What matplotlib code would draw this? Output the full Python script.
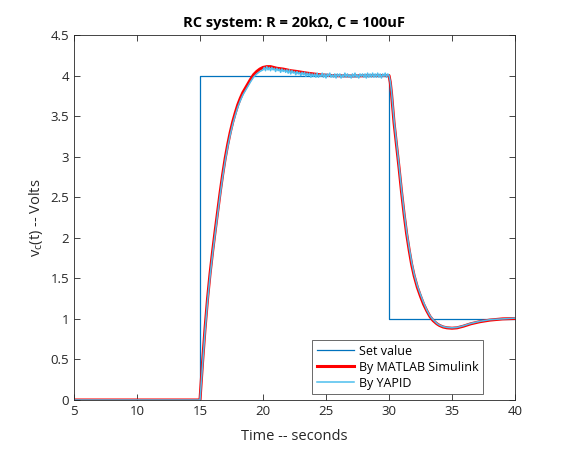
import numpy as np
import matplotlib
matplotlib.use("Agg")
import matplotlib.pyplot as plt

plt.rcParams['font.family'] = ['Open Sans', 'DejaVu Sans']
plt.rcParams['mathtext.fontset'] = 'custom'
plt.rcParams['mathtext.rm'] = 'Open Sans'

# set point (step input)
setpoint_t = [5, 15, 15, 30, 30, 40]
setpoint_v = [0, 0, 4, 4, 1, 1]

# MATLAB Simulink response
sim_t = [5, 15.0, 15.2, 15.4, 15.6, 15.8, 16.0, 16.2, 16.4, 16.6, 16.8, 17.0,
         17.2, 17.4, 17.6, 17.8, 18.0, 18.2, 18.4, 18.7, 19.0, 19.25, 19.5,
         19.75, 20.0, 20.3, 20.6, 21.1, 21.6, 22.2, 22.7, 23.5, 24.5, 25.5,
         27.0, 28.5, 30.0, 30.1, 30.2, 30.4, 30.6, 30.8, 31.0, 31.2, 31.4,
         31.6, 31.8, 32.0, 32.25, 32.5, 32.75, 33.0, 33.25, 33.5, 33.8, 34.0,
         34.3, 34.6, 35.0, 35.4, 35.9, 36.5, 37.2, 38.0, 39.0, 40.0]
sim_v = [0, 0, 0.46, 0.88, 1.25, 1.56, 1.83, 2.08, 2.32, 2.56, 2.78, 2.98,
         3.15, 3.30, 3.43, 3.54, 3.64, 3.72, 3.79, 3.87, 3.95, 4.01, 4.05,
         4.08, 4.10, 4.11, 4.11, 4.09, 4.08, 4.06, 4.05, 4.03, 4.01, 4.00,
         3.995, 4.0, 4.0, 3.92, 3.78, 3.42, 3.14, 2.86, 2.56, 2.29, 2.05,
         1.85, 1.67, 1.53, 1.39, 1.28, 1.18, 1.10, 1.03, 0.98, 0.94, 0.92,
         0.90, 0.89, 0.885, 0.89, 0.91, 0.94, 0.965, 0.985, 1.0, 1.005]

# YAPID response: rise, noisy plateau (0.1 s samples from 20.0 s), fall
yapid_rise_t = [5, 15.0, 15.2, 15.4, 15.6, 15.8, 16.0, 16.2, 16.4, 16.6, 16.8,
                17.0, 17.2, 17.4, 17.6, 17.8, 18.0, 18.2, 18.4, 18.7, 19.0,
                19.25, 19.5, 19.75]
yapid_rise_v = [0, 0, 0.43, 0.85, 1.22, 1.53, 1.80, 2.05, 2.29, 2.53, 2.75,
                2.95, 3.12, 3.27, 3.40, 3.51, 3.61, 3.69, 3.76, 3.84, 3.92,
                3.98, 4.02, 4.05]
yapid_plateau_v = [
    4.07, 4.10, 4.06, 4.11, 4.07, 4.10, 4.06, 4.10, 4.07, 4.09,
    4.05, 4.09, 4.06, 4.08, 4.04, 4.08, 4.05, 4.07, 4.04, 4.07,
    4.03, 4.07, 4.02, 4.06, 4.03, 4.05, 4.01, 4.05, 4.02, 4.04,
    4.00, 4.04, 4.01, 4.04, 3.99, 4.03, 4.00, 4.03, 3.98, 4.02,
    3.99, 4.02, 3.98, 4.03, 3.98, 4.01, 3.99, 4.03, 3.98, 4.02,
    3.97, 4.02, 3.99, 4.03, 3.98, 4.01, 3.98, 4.02, 3.97, 4.02,
    3.99, 4.02, 3.97, 4.01, 3.98, 4.03, 3.98, 4.02, 3.98, 4.01,
    3.97, 4.02, 3.98, 4.03, 3.98, 4.01, 3.97, 4.02, 3.99, 4.02,
    3.98, 4.02, 3.97, 4.03, 3.98, 4.02, 3.98, 4.03, 3.98, 4.02,
    3.98, 4.03, 3.98, 4.02, 3.97, 4.02, 3.99, 4.03, 3.98, 4.02]
yapid_fall_t = [30.0, 30.1, 30.2, 30.4, 30.6, 30.8, 31.0, 31.2, 31.4, 31.6,
                31.8, 32.0, 32.25, 32.5, 32.75, 33.0, 33.25, 33.5, 33.8, 34.0,
                34.3, 34.6, 35.0, 35.4, 35.9, 36.5, 37.2, 38.0, 39.0, 40.0]
yapid_fall_v = [4.0, 3.93, 3.80, 3.45, 3.17, 2.89, 2.59, 2.32, 2.08, 1.88,
                1.70, 1.55, 1.41, 1.30, 1.20, 1.11, 1.04, 0.99, 0.945, 0.925,
                0.905, 0.895, 0.89, 0.895, 0.915, 0.945, 0.97, 0.99, 1.0, 1.01]

yapid_plateau_t = 20.0 + 0.1 * np.arange(len(yapid_plateau_v))
yapid_t = np.concatenate([yapid_rise_t, yapid_plateau_t, yapid_fall_t])
yapid_v = np.concatenate([yapid_rise_v, yapid_plateau_v, yapid_fall_v])

fig = plt.figure(figsize=(5.7, 4.5), dpi=100)
ax = fig.add_axes([0.1298, 0.1111, 0.7737, 0.8111])

ax.plot(setpoint_t, setpoint_v, color='#0072BD', lw=0.9, label='Set value')
ax.plot(sim_t, sim_v, color='#FF0000', lw=2.2, label='By MATLAB Simulink')
ax.plot(yapid_t, yapid_v, color='#4DBEEE', lw=1.1, label='By YAPID')

ax.set_xlim(5, 40)
ax.set_ylim(0, 4.5)
ax.set_xticks(np.arange(5, 41, 5))
ax.set_yticks(np.arange(0, 4.6, 0.5))
ax.set_yticklabels(['0', '0.5', '1', '1.5', '2', '2.5', '3', '3.5', '4', '4.5'])
ax.tick_params(direction='in', top=True, right=True, length=4, width=0.6,
               colors='#262626', labelsize=9.5)
for s in ax.spines.values():
    s.set_color('#262626')
    s.set_linewidth(0.6)

ax.set_xlabel('Time -- seconds', fontsize=10.5, color='#262626', labelpad=8)
ax.set_ylabel(r'v$_\mathrm{c}$(t) -- Volts', fontsize=10.5, color='#262626')
ax.set_title('RC system: R = 20kΩ, C = 100uF', fontsize=10.5,
             fontweight='bold', color='black')

leg = ax.legend(loc='lower right', bbox_to_anchor=(0.927, 0.016),
                borderaxespad=0, fontsize=9, frameon=True, fancybox=False,
                edgecolor='#262626', handlelength=3.0, borderpad=0.35,
                labelspacing=0.25, handletextpad=0.35)
leg.get_frame().set_linewidth(0.6)

fig.savefig('out.png', dpi=100)
